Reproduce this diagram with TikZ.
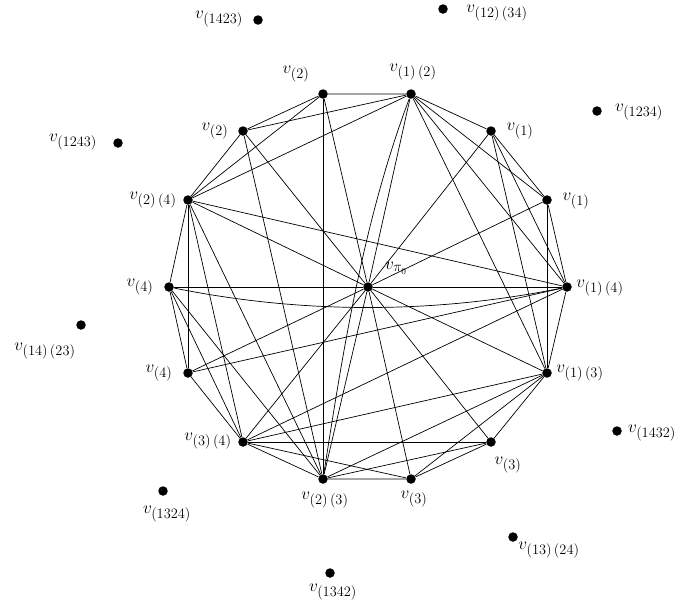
\documentclass[tikz,border=0pt]{standalone}
\begin{document}
\begin{tikzpicture}[x=1pt,y=-1pt,
  dot/.style={circle,fill=black,inner sep=0pt,minimum size=9.5pt},
  lab/.style={inner sep=0pt,font=\fontsize{19}{22}\selectfont},
  edge/.style={line width=0.7pt}]
\useasboundingbox (0,0) rectangle (685,603);
% outer ring
\node[dot] (A) at (411,94) {};
\node[dot] (B) at (491,131) {};
\node[dot] (C) at (547,200) {};
\node[dot] (D) at (567,287) {};
\node[dot] (E) at (547,373) {};
\node[dot] (F) at (491,442) {};
\node[dot] (G) at (411,479) {};
\node[dot] (H) at (323,479) {};
\node[dot] (I) at (243,442) {};
\node[dot] (J) at (188,373) {};
\node[dot] (K) at (169,287) {};
\node[dot] (L) at (188,200) {};
\node[dot] (M) at (243,131) {};
\node[dot] (N) at (323,94) {};
\node[dot] (P) at (368,287) {};
% isolated
\node[dot] (o1) at (258,20) {};
\node[dot] (o2) at (443,9) {};
\node[dot] (o3) at (597,111) {};
\node[dot] (o4) at (118,143) {};
\node[dot] (o5) at (81,325) {};
\node[dot] (o6) at (617,431) {};
\node[dot] (o7) at (163,491) {};
\node[dot] (o8) at (513,537) {};
\node[dot] (o9) at (330,573) {};
% labels
\node[lab] at (219,19) {$v_{(1423)}$};
\node[lab] at (497,13) {$v_{(12)\,(34)}$};
\node[lab] at (639,112) {$v_{(1234)}$};
\node[lab] at (73,142) {$v_{(1243)}$};
\node[lab] at (45,351) {$v_{(14)\,(23)}$};
\node[lab] at (652,433) {$v_{(1432)}$};
\node[lab] at (167,514) {$v_{(1324)}$};
\node[lab] at (549,550) {$v_{(13)\,(24)}$};
\node[lab] at (333,592) {$v_{(1342)}$};
\node[lab] at (296,74) {$v_{(2)}$};
\node[lab] at (413,72) {$v_{(1)\,(2)}$};
\node[lab] at (520,131) {$v_{(1)}$};
\node[lab] at (576,201) {$v_{(1)}$};
\node[lab] at (600,288) {$v_{(1)\,(4)}$};
\node[lab] at (580,373) {$v_{(1)\,(3)}$};
\node[lab] at (508,465) {$v_{(3)}$};
\node[lab] at (414,499) {$v_{(3)}$};
\node[lab] at (325,500) {$v_{(2)\,(3)}$};
\node[lab] at (208,441) {$v_{(3)\,(4)}$};
\node[lab] at (159,373) {$v_{(4)}$};
\node[lab] at (140,287) {$v_{(4)}$};
\node[lab] at (153,200) {$v_{(2)\,(4)}$};
\node[lab] at (215,131) {$v_{(2)}$};
\node[lab] at (396,268) {$v_{\pi_0}$};
% polygon
\draw[edge] (A)--(N)--(M)--(L)--(K)--(J)--(I)--(H)--(G)--(F)--(E)--(D)--(C)--(B)--(A);
% chords
\foreach \a/\b in {A/M,A/L,A/C,A/D,A/E,A/P,
  B/P,B/D,B/E, N/L,N/H,N/P, M/P,M/H,
  L/J,L/I,L/H,L/D,L/P, C/E,C/P,
  D/P,D/J,D/I, E/P,E/I,E/H,E/G,
  F/I,F/H,F/P, G/P,G/I, H/K,H/P,
  I/K,I/P, J/P, K/P}
  \draw[edge] (\a)--(\b);
\draw[edge] (A) .. controls (363,222) and (343,351) .. (H);
\draw[edge] (K) .. controls (302,314) and (434,314) .. (D);
\end{tikzpicture}
\end{document}
